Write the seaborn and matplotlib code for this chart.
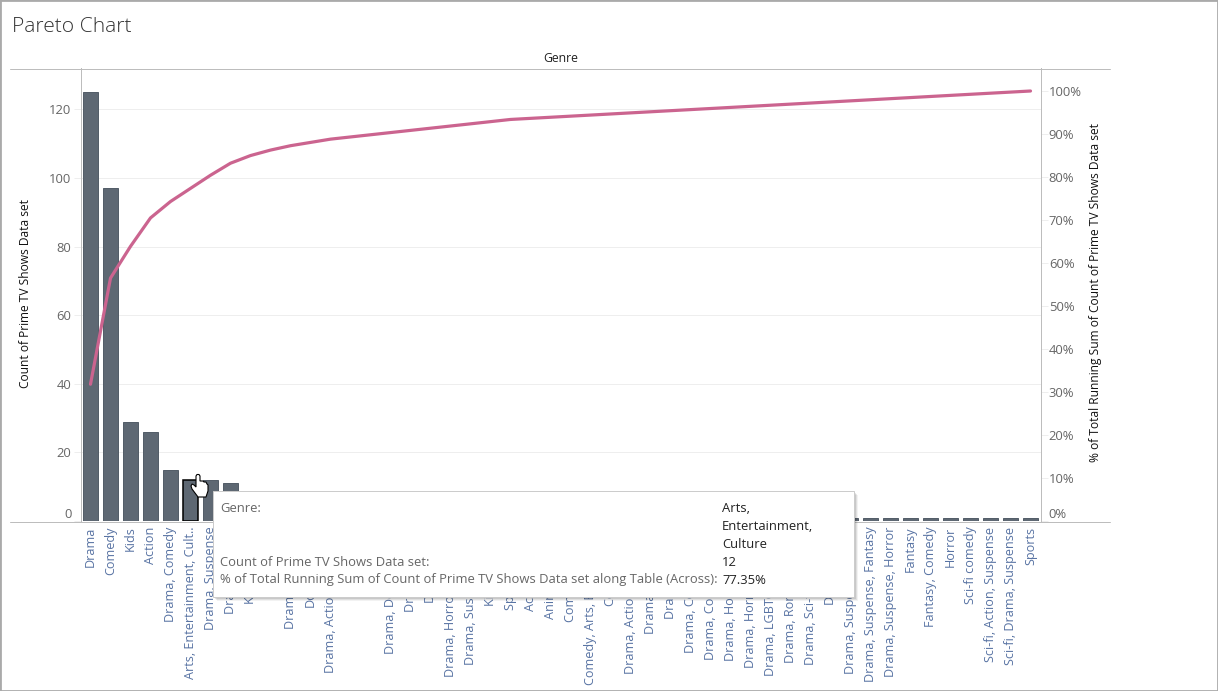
import numpy as np
import pandas as pd
import seaborn as sns
from matplotlib import pyplot as plt
from matplotlib.lines import Line2D
from matplotlib.patches import Polygon, Rectangle

genres = ['Drama', 'Comedy', 'Kids', 'Action', 'Drama, Comedy',
          'Arts, Entertainment, Cult..', 'Drama, Suspense', 'Drama, Horror',
          'Kids, Fantasy', 'Reality', 'Drama, Romance', 'Documentary',
          'Drama, Action, Romance', 'Anime', 'Crime',
          'Drama, Documentary', 'Drama, Family', 'Drama, Food',
          'Drama, Horror, Suspense', 'Drama, Suspense, Sci-fi', 'Kids, Comedy',
          'Sports, Health', 'Action, Drama', 'Animation, Kids', 'Comedy, Drama',
          'Comedy, Arts, Entertainm..', 'Comedy, Kids', 'Drama, Action, Suspense',
          'Drama, Biography', 'Drama, Fantasy', 'Drama, Comedy, Kids',
          'Drama, Comedy, Sport', 'Drama, Horror, LGBTQ', 'Drama, Horror, Sci-fi, T..',
          'Drama, LGBTQ, Romance', 'Drama, Romance, Sci-fi', 'Drama, Sci-fi, Suspense',
          'Drama, Sport', 'Drama, Suspense, Action', 'Drama, Suspense, Fantasy',
          'Drama, Suspense, Horror', 'Fantasy', 'Fantasy, Comedy', 'Horror',
          'Sci-fi comedy', 'Sci-fi, Action, Suspense', 'Sci-fi, Drama, Suspense',
          'Sports']
counts = [125, 97, 29, 26, 15, 12, 12, 11, 7, 5, 4, 3, 3, 2, 2, 2, 2, 2, 2, 2, 2, 2,
          1, 1, 1, 1, 1, 1, 1, 1, 1, 1, 1, 1, 1, 1, 1, 1, 1, 1, 1, 1, 1, 1, 1, 1, 1, 1]
left_ticks = [0, 20, 40, 60, 80, 100, 120]
right_ticks = [0, 10, 20, 30, 40, 50, 60, 70, 80, 90, 100]

tooltip_names = ['Genre:', 'Count of Prime TV Shows Data set:',
                 '% of Total Running Sum of Count of Prime TV Shows Data set along Table (Across):']
tooltip_genre = ['Arts,', 'Entertainment,', 'Culture']
tooltip_count = '12'
tooltip_pct = '77.35%'

W, H = 1218, 691
BAR = '#5e6873'
LINE = '#cb648f'
RULE = '#bdbdbd'

sns.set_theme(style='white')
plt.rcParams['font.family'] = ['Open Sans', 'DejaVu Sans']


def fx(x):
    return x / W


def fy(y):
    return 1 - y / H


def px(size):
    return size * 72 / 100


df = pd.DataFrame({'genre': genres, 'count': counts})
df['pct'] = df['count'].cumsum() / df['count'].sum() * 100
df['pos'] = np.arange(len(df))

fig = plt.figure(figsize=(W / 100, H / 100), dpi=100, facecolor='white')
ax = fig.add_axes([fx(80.5), fy(521), 960 / W, 453 / H])

# bars
sns.barplot(data=df, x='genre', y='count', color=BAR, saturation=1, width=0.75,
            edgecolor='#525c67', linewidth=0.7, ax=ax, zorder=3)
selected = ax.patches[5]
selected.set_edgecolor('black')
selected.set_linewidth(1.1)

ax.set_xlim(-0.5, 47.5)
ax.set_ylim(0, 132.1)
ax.set_yticks(left_ticks)
ax.set_xticks(df['pos'])
ax.set_xticklabels(genres, rotation=90, fontsize=px(12.6), color='#5873a3', va='top', ha='center')
ax.set_xticks(np.arange(-0.5, 48), minor=True)
ax.tick_params(axis='x', which='major', length=0, pad=4)
ax.tick_params(axis='x', which='minor', length=4, width=0.72, color='#eeeeee')
ax.tick_params(axis='y', length=5, width=0.72, color='#eeeeee', labelsize=px(13),
               labelcolor='#666666', pad=1.5, left=True)
ax.set_yticklabels([str(v) for v in left_ticks])
ax.get_yticklabels()[0].set_va('bottom')
ax.grid(axis='y', color='#eeeeee', linewidth=0.72)
ax.grid(axis='x', visible=False)
ax.set_axisbelow(True)
ax.set_xlabel('')
ax.set_ylabel('')

# running total on the second axis
ax2 = ax.twinx()
ax2.patch.set_visible(False)
sns.lineplot(data=df, x='pos', y='pct', color=LINE, linewidth=2.3, ax=ax2, sort=False,
             errorbar=None, solid_joinstyle='round', solid_capstyle='round')
ax2.set_ylim(0, 105.35)
ax2.set_yticks(right_ticks)
ax2.set_yticklabels([f'{v}%' for v in right_ticks])
ax2.get_yticklabels()[0].set_va('bottom')
ax2.tick_params(axis='y', length=5, width=0.72, color='#eeeeee', labelsize=px(13),
                labelcolor='#666666', pad=1, right=True)
ax2.set_xlabel('')
ax2.set_ylabel('')
ax2.grid(False)

for a in [ax, ax2]:
    for side in ['top', 'bottom']:
        a.spines[side].set_visible(False)
    for side in ['left', 'right']:
        a.spines[side].set_color(RULE)
        a.spines[side].set_linewidth(0.72)

# titles and header rules
fig.text(fx(12), fy(26.5), 'Pareto Chart', fontsize=px(21), fontweight='light', color='#333333',
         va='center', ha='left')
fig.text(fx(560.5), fy(59), 'Genre', fontsize=px(12.2), color='#222222', va='center', ha='center')
fig.text(fx(26), fy(294), 'Count of Prime TV Shows Data set', fontsize=px(12), color='#111111',
         rotation=90, va='center', ha='center')
fig.text(fx(1095), fy(293), '% of Total Running Sum of Count of Prime TV Shows Data set',
         fontsize=px(12), color='#111111', rotation=90, va='center', ha='center')
for y in [68.5, 521.5]:
    fig.add_artist(Line2D([fx(10), fx(1110)], [fy(y), fy(y)], color=RULE, linewidth=0.72, zorder=5))

# tooltip on top of everything
for off, alpha in [(4, 0.05), (3, 0.08), (2, 0.1), (1, 0.12)]:
    fig.add_artist(Rectangle((fx(213 + off), fy(597 + off)), 641 / W, 106 / H, transform=fig.transFigure,
                             facecolor='black', edgecolor='none', alpha=alpha, zorder=9))
fig.add_artist(Rectangle((fx(213), fy(597)), 641 / W, 106 / H, transform=fig.transFigure,
                         facecolor='white', edgecolor='#cccccc', linewidth=0.72, zorder=10))
for y, name in zip([508, 562, 580], tooltip_names):
    fig.text(fx(220), fy(y), name, fontsize=px(13), color='#666666', va='center', ha='left', zorder=11)
for y, val in zip([508, 526, 544, 562, 580], tooltip_genre + [tooltip_count, tooltip_pct]):
    fig.text(fx(722), fy(y), val, fontsize=px(13), color='#222222', va='center', ha='left', zorder=11)

# hand cursor
hand = [(196, 476), (197, 474.5), (199, 474.5), (200, 476), (200, 481), (203, 481), (204, 482),
        (206, 482), (207, 484), (208, 485), (208, 491), (206, 497), (198, 497), (192, 489),
        (191, 486), (192, 484), (194, 485), (196, 487)]
fig.add_artist(Polygon([(fx(x), fy(y)) for x, y in hand], closed=True, transform=fig.transFigure,
                       facecolor='white', edgecolor='black', linewidth=0.8, zorder=12))

# outer frame
fig.add_artist(Rectangle((0, 0), 1, 1, transform=fig.transFigure, facecolor='none',
                         edgecolor='#aaaaaa', linewidth=2, zorder=20))

fig.savefig('out.png', dpi=100)
